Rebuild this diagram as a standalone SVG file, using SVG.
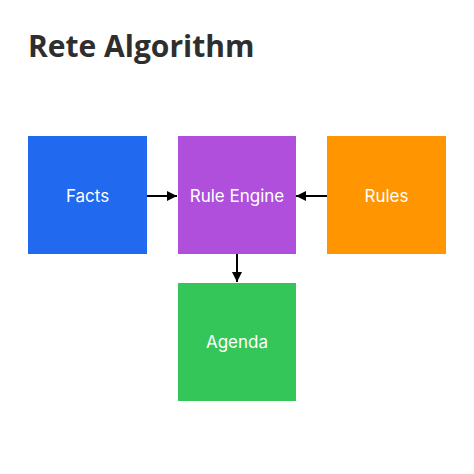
<svg xmlns="http://www.w3.org/2000/svg" width="474" height="474" viewBox="0 0 474 474">
<defs>
<style>
.lbl{font-family:Inter,"Noto Sans",sans-serif;font-weight:normal;font-size:17px;fill:#ffffff;text-anchor:middle;dominant-baseline:central}
.title{font-family:"Open Sans","Noto Sans",sans-serif;font-weight:bold;font-size:30px;fill:#2e2e2e}
.conn{stroke:#000;stroke-width:2;fill:none;marker-end:url(#ah)}
</style>
<marker id="ah" viewBox="0 0 10 10" refX="10" refY="5" markerWidth="5" markerHeight="5" orient="auto" markerUnits="strokeWidth">
<path d="M0,0 L10,5 L0,10 z" fill="#000"/>
</marker>
</defs>
<rect width="474" height="474" fill="#ffffff"/>
<text class="title" x="28" y="57">Rete Algorithm</text>
<g id="connectors">
<line class="conn" x1="147" y1="196" x2="177" y2="196"/>
<line class="conn" x1="327" y1="196" x2="296" y2="196"/>
<line class="conn" x1="237" y1="254" x2="237" y2="282"/>
</g>
<g id="facts"><rect x="28" y="136" width="119" height="118" fill="#216AF0"/><text class="lbl" x="87.5" y="196">Facts</text></g>
<g id="rule-engine"><rect x="178" y="136" width="118" height="118" fill="#AF4FDC"/><text class="lbl" x="237" y="196">Rule Engine</text></g>
<g id="rules"><rect x="327" y="136" width="119" height="118" fill="#FF9500"/><text class="lbl" x="386.5" y="196">Rules</text></g>
<g id="agenda"><rect x="178" y="283" width="118" height="118" fill="#34C659"/><text class="lbl" x="237" y="342">Agenda</text></g>
</svg>
